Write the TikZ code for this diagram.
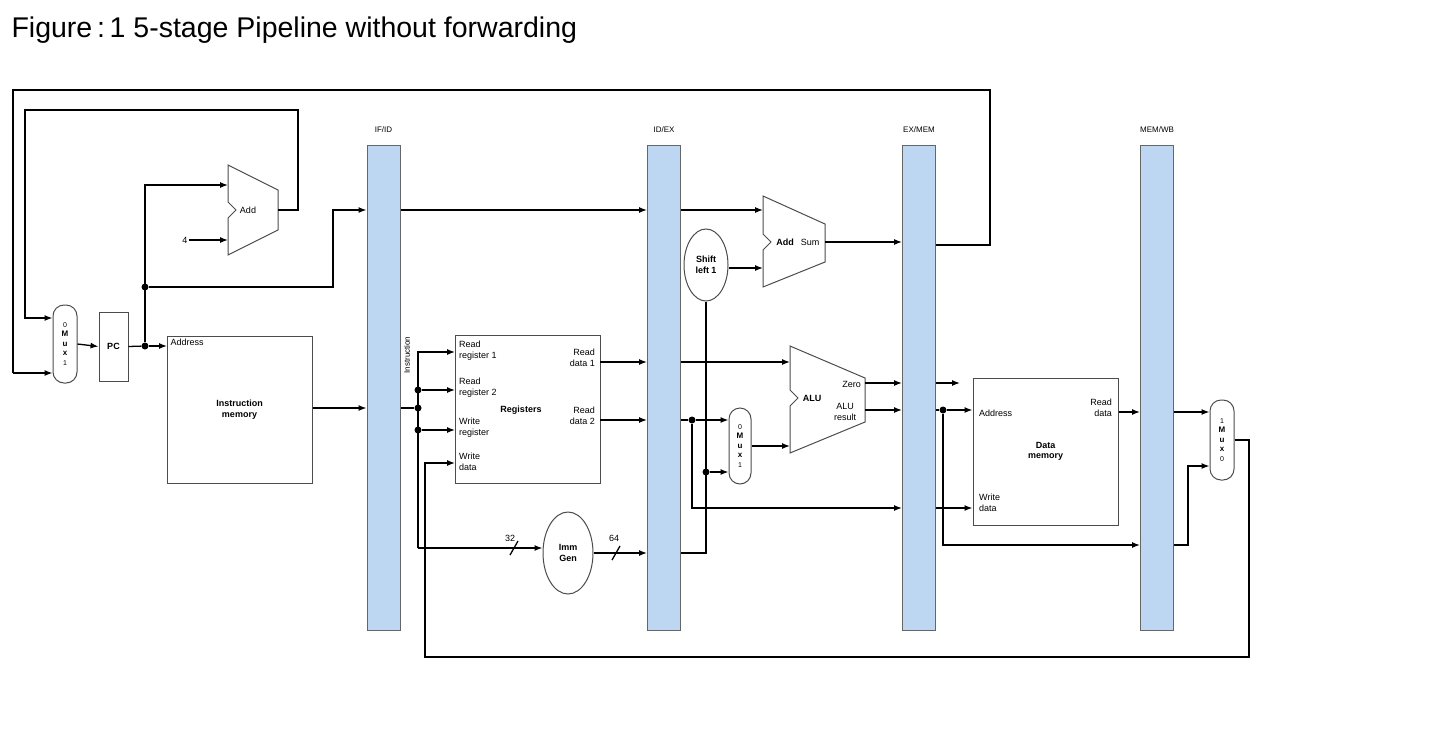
\documentclass[tikz,border=0pt]{standalone}
\usepackage{fontspec}
\setmainfont{Liberation Sans}
\usetikzlibrary{arrows.meta,shapes.geometric}
\definecolor{barblue}{RGB}{189,215,242}
\tikzset{
  wire/.style={line width=1.3pt},
  arr/.style={wire,-{Latex[length=8pt,width=6pt]}},
  dot/.style={circle,fill=black,inner sep=0pt,minimum size=7pt},
  lbl/.style={font=\fontsize{9}{10.5}\selectfont,align=left,inner sep=1pt},
  blbl/.style={font=\fontsize{9}{10.5}\selectfont\bfseries,align=center,inner sep=1pt},
  unit/.style={draw=black!70,line width=1pt},
  bar/.style={draw=black!60,fill=barblue,line width=1pt},
  mux/.style={draw=black!70,line width=1pt,rounded corners=11pt,font=\fontsize{8}{9.5}\selectfont\bfseries,align=center,inner sep=0pt},
}
\begin{document}
\begin{tikzpicture}[x=1pt,y=-1pt]
\useasboundingbox (0,0) rectangle (1432,742);
\node[anchor=west,font=\fontsize{28.5}{32}\selectfont] (title) at (8,30) {Figure\,:\,1 5-stage Pipeline without forwarding};
% pipeline registers
\foreach \nm/\x/\t in {ifid/383.5/{IF/ID}, idex/664/{ID/EX}, exmem/919/{EX/MEM}, memwb/1157/{MEM/WB}}{
  \node[bar,minimum width=33pt,minimum height=485pt,inner sep=0pt] (\nm) at (\x,387.5) {};
  \node[lbl,font=\fontsize{8}{9}\selectfont] (\nm-t) at (\x,130) {\t};
}
\node[lbl,rotate=90,font=\fontsize{8}{9}\selectfont] (instr) at (407,355) {Instruction};
% IF stage
\node[mux,minimum width=24pt,minimum height=78pt] (pcmux) at (65,344) {\fontsize{7}{8}\mdseries 0\\M\\u\\x\\\fontsize{7}{8}\mdseries 1};
\node[unit,minimum width=29pt,minimum height=69pt,blbl] (pc) at (113.5,346.5) {PC};
\node[unit,minimum width=145pt,minimum height=147pt,blbl] (imem) at (239.5,409.5) {Instruction\\memory};
\node[lbl,anchor=north west] (imem-a) at ([xshift=3pt,yshift=-2pt]imem.north west) {Address};
\draw[unit] (228,165) -- (278,190) -- (278,230) -- (228,255) -- (228,218) -- (236,210) -- (228,202) -- cycle;
\node[lbl] (add1) at (248,210) {Add};
\node[lbl] (four) at (185,240) {4};
\coordinate (pcj) at (145,346);
\coordinate (pcj2) at (145,287);
\node[dot] (d1) at (pcj) {};
\node[dot] (d2) at (pcj2) {};
\draw[arr] (pcmux.east) -- (pc.west);
\draw[wire] (pc.east) -- (d1);
\draw[arr] (d1) -- (167,346);
\draw[arr] (d1) |- (228,185);
\draw[arr] (d2) -| (333,210) -- (ifid.west |- 0,210);
\draw[arr] (four) -- (228,240);
\draw[arr] (278,210) -- (298,210) |- (25,110) |- (pcmux.west |- 0,318);
\draw[arr] (imem.east |- 0,408) -- (ifid.west |- 0,408);
% ID stage
\node[unit,minimum width=145pt,minimum height=148pt] (regs) at (527.5,409) {};
\node[lbl,anchor=north west] (rr1) at (458,340) {Read\\register 1};
\node[lbl,anchor=north west] (rr2) at (458,377) {Read\\register 2};
\node[lbl,anchor=north west] (wr) at (458,417) {Write\\register};
\node[lbl,anchor=north west] (wd) at (458,452) {Write\\data};
\node[lbl,align=right,anchor=north east] (rd1) at (596,348) {Read\\data 1};
\node[lbl,align=right,anchor=north east] (rd2) at (596,406) {Read\\data 2};
\node[blbl] (regs-t) at (521,410) {Registers};
\node[ellipse,unit,minimum width=50pt,minimum height=82pt,blbl] (imm) at (568,553) {Imm\\Gen};
\node[dot] (d3) at (418,390) {};
\node[dot] (d4) at (418,408) {};
\node[dot] (d5) at (418,430) {};
\draw[arr] (ifid.east |- 0,210) -- (idex.west |- 0,210);
\draw[wire] (ifid.east |- 0,408) -- (d4);
\draw[arr] (418,548) |- (455,352);
\draw[arr] (d3) -- (455,390);
\draw[arr] (d5) -- (455,430);
\draw[arr] (418,548) -- (imm.west |- 0,548);
\draw[wire] (510,555) -- (518,541);
\node[lbl] (w32) at (510,538) {32};
\draw[arr] (imm.east) -- (idex.west |- imm.east);
\draw[wire] (612,560) -- (620,546);
\node[lbl] (w64) at (614,538) {64};
\draw[arr] (600,362) -- (idex.west |- 0,362);
\draw[arr] (600,420) -- (idex.west |- 0,420);
% EX stage
\draw[unit] (763,196) -- (825,224) -- (825,262) -- (763,287) -- (763,250) -- (771,242) -- (763,234) -- cycle;
\node[blbl] (add2) at (785,242) {Add};
\node[lbl] (sum) at (810,242) {Sum};
\node[ellipse,unit,minimum width=44pt,minimum height=72pt,blbl,inner sep=0pt] (shl) at (706,265) {Shift\\left 1};
\draw[unit] (790,346) -- (865,378) -- (865,422) -- (790,453) -- (790,406) -- (798,398) -- (790,390) -- cycle;
\node[blbl] (alu) at (812,398) {ALU};
\node[lbl,align=right,anchor=east] (zero) at (862,384) {Zero};
\node[lbl,align=center] (alures) at (845,412) {ALU\\result};
\node[mux,minimum width=22pt,minimum height=76pt] (alumux) at (740,446) {\fontsize{7}{8}\mdseries 0\\M\\u\\x\\\fontsize{7}{8}\mdseries 1};
\node[dot] (d6) at (692,420) {};
\node[dot] (d7) at (706,472) {};
\draw[arr] (idex.east |- 0,210) -- (763,210);
\draw[arr] (shl.east |- 0,268) -- (763,268);
\draw[arr] (825,242) -- (exmem.west |- 0,242);
\draw[wire] (idex.east |- 0,553) -| (shl.south);
\draw[arr] (d7) -- (alumux.west |- d7);
\draw[arr] (idex.east |- 0,362) -- (790,362);
\draw[wire] (idex.east |- 0,420) -- (d6);
\draw[arr] (d6) -- (alumux.west |- d6);
\draw[arr] (d6) |- (exmem.west |- 0,508);
\draw[arr] (alumux.east) -- (790,446);
\draw[arr] (865,383) -- (exmem.west |- 0,383);
\draw[arr] (865,410) -- (exmem.west |- 0,410);
\draw[wire] (exmem.east |- 0,245) -- (990,245) |- (13,90) -- (13,373);
\draw[arr] (13,373) -- (pcmux.west |- 0,373);
% MEM and WB stages
\node[unit,minimum width=145pt,minimum height=147pt,blbl] (dmem) at (1045.5,451.5) {Data\\memory};
\node[lbl,anchor=west] (dm-a) at (978,413) {Address};
\node[lbl,anchor=north west] (dm-w) at (978,493) {Write\\data};
\node[lbl,align=right,anchor=north east] (dm-r) at (1113,398) {Read\\data};
\node[mux,minimum width=24pt,minimum height=80pt] (wbmux) at (1222,440) {\fontsize{7}{8}\mdseries 1\\M\\u\\x\\\fontsize{7}{8}\mdseries 0};
\node[dot] (d8) at (943,410) {};
\draw[arr] (exmem.east |- 0,383) -- (960,383);
\draw[wire] (exmem.east |- 0,410) -- (d8);
\draw[arr] (d8) -- (dmem.west |- d8);
\draw[arr] (d8) |- (memwb.west |- 0,545);
\draw[arr] (exmem.east |- 0,508) -- (dmem.west |- 0,508);
\draw[arr] (dmem.east |- 0,412) -- (memwb.west |- 0,412);
\draw[arr] (memwb.east |- 0,412) -- (wbmux.west |- 0,412);
\draw[arr] (memwb.east |- 0,545) -- (1188,545) |- (wbmux.west |- 0,466);
\draw[arr] (wbmux.east) -- (1249,440) |- (425,657) |- (455,463);
\end{tikzpicture}
\end{document}
